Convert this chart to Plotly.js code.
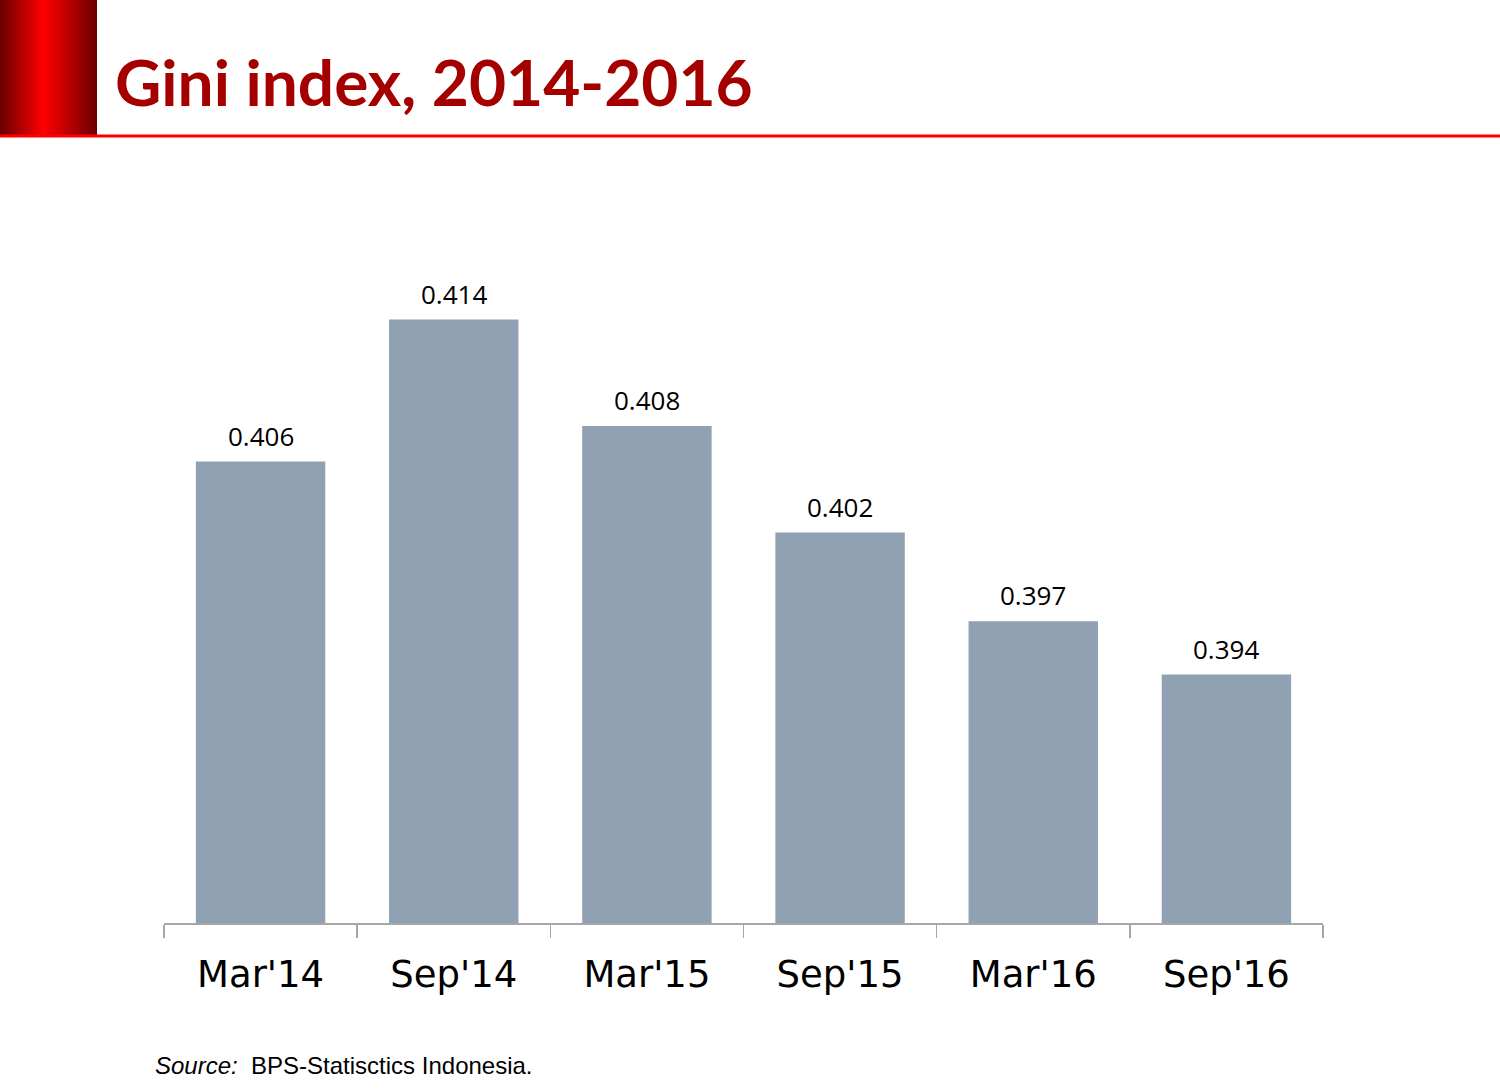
<!DOCTYPE html>
<html>
<head>
<meta charset="utf-8">
<script src="https://cdn.plot.ly/plotly-3.0.1.min.js"></script>
<style>
  html, body { margin: 0; padding: 0; background: #ffffff; }
  #chart { width: 1500px; height: 1089px; }
</style>
</head>
<body>
<div id="chart"></div>
<script>
// ---- Data ----
const categories = ["Mar'14", "Sep'14", "Mar'15", "Sep'15", "Mar'16", "Sep'16"];
const giniValues = [0.406, 0.414, 0.408, 0.402, 0.397, 0.394];
const valueLabels = ["0.406", "0.414", "0.408", "0.402", "0.397", "0.394"];
const chartTitle = "Gini index, 2014-2016";
const sourceText = "<i>Source:</i>  BPS-Statisctics Indonesia.";

// ---- Layout geometry (pixels) ----
const W = 1500, H = 1089;
const mL = 164, mR = 177, mT = 213, mB = 166;
const plotW = W - mL - mR, plotH = H - mT - mB;
const px2x = p => (p - mL) / plotW;
const py2y = p => (H - mB - p) / plotH;

const blockSvg = '<svg xmlns="http://www.w3.org/2000/svg" width="97" height="137" preserveAspectRatio="none">' +
  '<defs><linearGradient id="g" x1="0" y1="0" x2="1" y2="0">' +
  '<stop offset="0" stop-color="#6a0000"/><stop offset="0.45" stop-color="#ff0000"/><stop offset="1" stop-color="#6a0000"/>' +
  '</linearGradient></defs><rect width="97" height="137" fill="url(#g)"/></svg>';

const trace = {
  type: 'bar',
  x: categories,
  y: giniValues,
  marker: { color: '#90a1b3', line: { width: 0 } },
  hoverinfo: 'skip'
};

const labelAnnotations = categories.map((c, i) => ({
  x: c, y: giniValues[i], xref: 'x', yref: 'y',
  text: valueLabels[i], showarrow: false,
  yanchor: 'bottom', yshift: 6,
  font: { family: 'Open Sans, sans-serif', size: 26, color: '#000000' }
}));

const layout = {
  width: W, height: H,
  margin: { l: mL, r: mR, t: mT, b: mB },
  paper_bgcolor: '#ffffff',
  plot_bgcolor: '#ffffff',
  showlegend: false,
  bargap: 0.33,
  title: {
    text: '<b>' + chartTitle + '</b>',
    font: { family: 'Lato, sans-serif', size: 64, color: '#a50000' },
    xref: 'container', yref: 'container',
    x: 115 / W, xanchor: 'left',
    y: 1 - 84 / H, yanchor: 'middle'
  },
  xaxis: {
    type: 'category',
    showline: true, linecolor: '#a6a6a6', linewidth: 1.5,
    ticks: 'outside', tickson: 'boundaries', ticklen: 13, tickcolor: '#a6a6a6', tickwidth: 1.5,
    ticklabelstandoff: 18,
    tickfont: { family: 'DejaVu Sans, Verdana, sans-serif', size: 37, color: '#000000' },
    showgrid: false, zeroline: false, fixedrange: true
  },
  yaxis: {
    range: [0.38, 0.42],
    visible: false, showgrid: false, zeroline: false, fixedrange: true
  },
  shapes: [{
    type: 'line', xref: 'paper', yref: 'paper',
    x0: px2x(0), x1: px2x(W), y0: py2y(136), y1: py2y(136),
    line: { color: '#ff0000', width: 3 }
  }],
  images: [{
    source: 'data:image/svg+xml;charset=utf-8,' + encodeURIComponent(blockSvg),
    xref: 'paper', yref: 'paper',
    x: px2x(0), y: py2y(0), sizex: 97 / plotW, sizey: 137 / plotH,
    xanchor: 'left', yanchor: 'top', sizing: 'stretch', layer: 'above'
  }],
  annotations: labelAnnotations.concat([{
    text: sourceText, showarrow: false,
    xref: 'paper', yref: 'paper',
    x: px2x(153), xanchor: 'left',
    y: py2y(1065), yanchor: 'middle',
    font: { family: 'Liberation Sans Narrow, Arial Narrow, Liberation Sans, sans-serif', size: 24, color: '#000000' }
  }])
};

Plotly.newPlot('chart', [trace], layout, { staticPlot: true, displayModeBar: false });
</script>
</body>
</html>
